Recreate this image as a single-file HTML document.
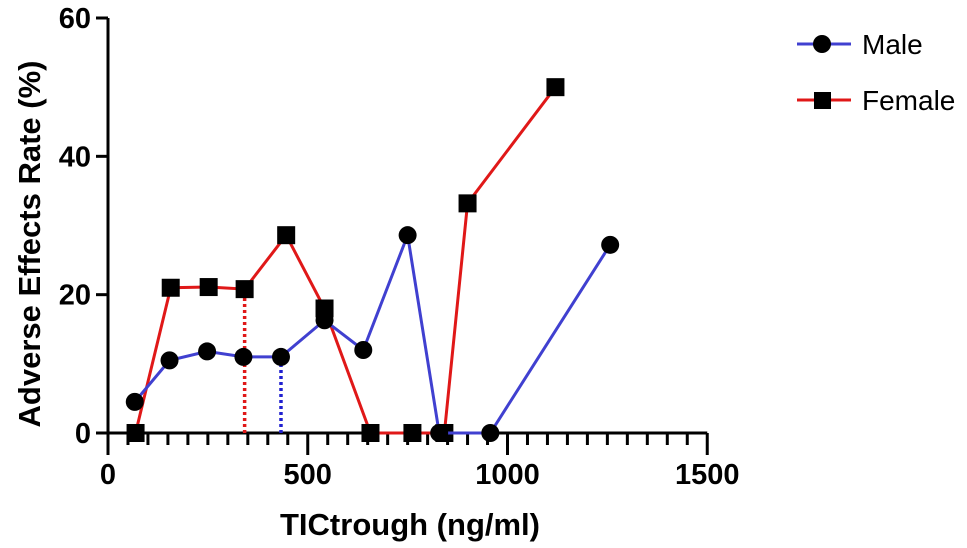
<!DOCTYPE html>
<html><head><meta charset="utf-8"><style>
body{margin:0;background:#fff;}
svg{display:block;font-family:"Liberation Sans",Arial,sans-serif;}
</style></head><body>
<svg id="chart" width="967" height="548" viewBox="0 0 967 548" xmlns="http://www.w3.org/2000/svg">
<g id="axes"></g>
<g id="guides"></g>
<g id="series"></g>
<g id="legend">
  <line x1="797" y1="44" x2="851" y2="44" stroke="#4040d0" stroke-width="3"/>
  <circle cx="822" cy="44" r="9" fill="#000"/>
  <text x="862" y="54" font-size="28">Male</text>
  <line x1="797" y1="100" x2="851" y2="100" stroke="#e01818" stroke-width="3"/>
  <rect x="814" y="92" width="17" height="17" fill="#000"/>
  <text x="862" y="110" font-size="28">Female</text>
</g>
<text x="410" y="535" font-size="31" font-weight="bold" text-anchor="middle">TICtrough (ng/ml)</text>
<text transform="translate(40,244) rotate(-90)" font-size="31" font-weight="bold" text-anchor="middle">Adverse Effects Rate (%)</text>
</svg>
<script>
const maleX=[67,154,248,339,433,542,639,750,829,957,1257];
const maleY=[4.5,10.5,11.8,11.0,11.0,16.3,12.0,28.6,0,0,27.2];
const femaleX=[69,157,252,342,446,542,657,762,842,900,1120];
const femaleY=[0,21.0,21.1,20.8,28.6,18.0,0,0,0,33.2,50];
const xTicks=[0,500,1000,1500];
const yTicks=[0,20,40,60];
const guideX=[342,433];
const guideY=[20.8,11.0];

const NS="http://www.w3.org/2000/svg";
const X0=108,XS=0.3995,Y0=433,YS=(433-18)/60;
const xs=v=>X0+v*XS, ys=v=>Y0-v*YS;
function mk(tag,attrs,parent){const e=document.createElementNS(NS,tag);for(const k in attrs)e.setAttribute(k,attrs[k]);parent.appendChild(e);return e;}
const axes=document.getElementById('axes');
let a=mk('line',{x1:X0,y1:ys(60),x2:X0,y2:Y0,stroke:'#000','stroke-width':3},axes);


a=mk('line',{x1:X0,y1:Y0,x2:xs(1500),y2:Y0,stroke:'#000','stroke-width':3},axes);


yTicks.forEach(t=>{
  const l=mk('line',{x1:X0-12,y1:ys(t),x2:X0,y2:ys(t),stroke:'#000','stroke-width':3},axes);
  
  
  const tx=mk('text',{x:X0-17,y:ys(t)+10,'font-size':29,'font-weight':'bold','text-anchor':'end'},axes);
  tx.textContent=t;
  
  
});
for(let v=0;v<=1500;v+=50){
  const major=v%500===0;
  const l=mk('line',{x1:xs(v),y1:Y0,x2:xs(v),y2:Y0+(major?22:12),stroke:'#000','stroke-width':3},axes);
  
  
}
xTicks.forEach(t=>{
  const tx=mk('text',{x:xs(t),y:484,'font-size':29,'font-weight':'bold','text-anchor':'middle'},axes);
  tx.textContent=t;
  
  
});
const guides=document.getElementById('guides');
const gcol=['#e01818','#2020d0'];
guideX.forEach((g,i)=>{
  const l=mk('line',{x1:xs(g),y1:Y0,x2:xs(g),y2:ys(guideY[i]),stroke:gcol[i],'stroke-width':3.5,'stroke-dasharray':'3,3'},guides);
  
  
});
const series=document.getElementById('series');
function draw(X,Y,col,shape,name){
  const p=mk('polyline',{points:X.map((x,i)=>xs(x)+','+ys(Y[i])).join(' '),fill:'none',stroke:col,'stroke-width':3},series);
  
  
  X.forEach((x,i)=>{
    let m;
    if(shape==='c') m=mk('circle',{cx:xs(x),cy:ys(Y[i]),r:9,fill:'#000'},series);
    else m=mk('rect',{x:xs(x)-9,y:ys(Y[i])-9,width:18,height:18,fill:'#000'},series);
    
    
  });
}
draw(femaleX,femaleY,'#e01818','s','female');
draw(maleX,maleY,'#4040d0','c','male');
</script>
</body></html>
